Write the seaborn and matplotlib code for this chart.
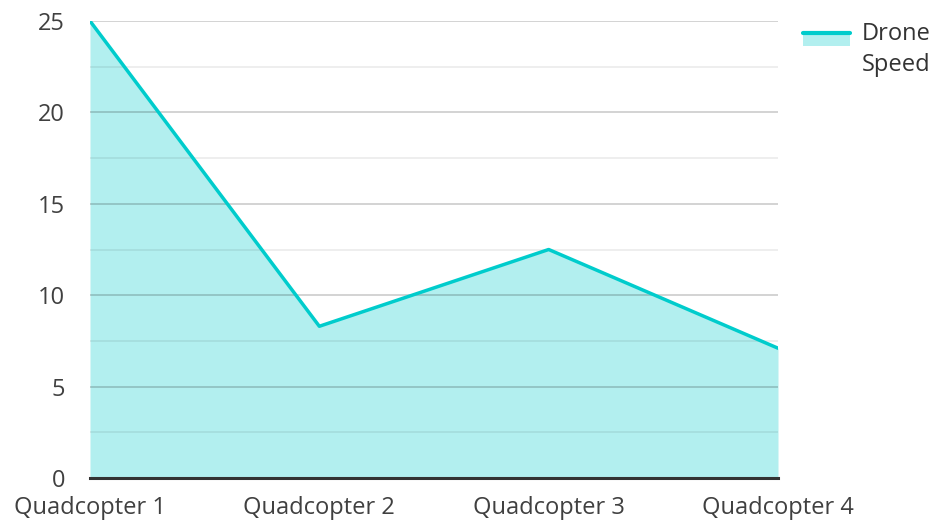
import matplotlib
matplotlib.use("Agg")
import matplotlib.pyplot as plt
import seaborn as sns
import pandas as pd
from matplotlib.lines import Line2D
from matplotlib.patches import Rectangle
from matplotlib.legend_handler import HandlerBase

categories = ["Quadcopter 1", "Quadcopter 2", "Quadcopter 3", "Quadcopter 4"]
speed = [25, 8.3, 12.5, 7.1]
y_ticks = [0, 5, 10, 15, 20, 25]
series_name = "Drone\nSpeed"

line_color = "#00CCCC"
fill_color = "#B2EFEF"

sns.set_theme(style="white")
plt.rcParams["font.family"] = ["Open Sans", "DejaVu Sans"]

df = pd.DataFrame({"x": range(len(categories)), "y": speed})

fig = plt.figure(figsize=(9.33, 5.22), dpi=100)
ax = fig.add_axes([90/933, 1-478/522, (778-90)/933, (478-21)/522])

ax.fill_between(df["x"], df["y"], 0, color=fill_color, zorder=1, linewidth=0)
sns.lineplot(data=df, x="x", y="y", ax=ax, color=line_color, linewidth=2.5, zorder=3)

ax.set_xlim(0, len(categories)-1)
ax.set_ylim(0, 25)
ax.set_xticks(range(len(categories)))
ax.set_xticklabels(categories)
ax.set_yticks(y_ticks)
ax.set_yticks([2.5, 7.5, 12.5, 17.5, 22.5], minor=True)
ax.set_axisbelow(False)
ax.grid(True, axis="y", which="major", color="black", alpha=0.2, linewidth=1.2, zorder=2)
ax.grid(True, axis="y", which="minor", color="black", alpha=0.08, linewidth=1.2, zorder=2)
ax.grid(False, axis="x")
ax.set_xlabel("")
ax.set_ylabel("")
for s in ["left", "right", "top"]:
    ax.spines[s].set_visible(False)
ax.spines["bottom"].set_color("#333333")
ax.spines["bottom"].set_linewidth(2.2)
ax.spines["bottom"].set_zorder(4)
ax.tick_params(axis="both", which="both", length=0, labelsize=17, colors="#404040")
ax.tick_params(axis="y", pad=18)
ax.tick_params(axis="x", pad=13)
if ax.get_legend():
    ax.get_legend().remove()


class AreaHandler(HandlerBase):
    def create_artists(self, legend, orig_handle, xdescent, ydescent, width, height, fontsize, trans):
        off = 0.5 * fontsize
        top = -ydescent + height + off
        r = Rectangle((-xdescent, top - height), width, height, facecolor=fill_color,
                      edgecolor="none", transform=trans)
        l = Line2D([-xdescent, -xdescent + width], [top - 1.2] * 2,
                   color=line_color, linewidth=3, transform=trans)
        return [r, l]


proxy = Rectangle((0, 0), 1, 1)
leg = fig.legend([proxy], [series_name], handler_map={Rectangle: AreaHandler()},
                 loc="upper left", bbox_to_anchor=(803/933, 1-22/522), frameon=False,
                 borderpad=0, borderaxespad=0,
                 fontsize=17, handlelength=2.0, handleheight=0.6, handletextpad=0.47,
                 labelcolor="#333333")
for t in leg.get_texts():
    t.set_linespacing(1.4)

fig.savefig("out.png", dpi=100)
